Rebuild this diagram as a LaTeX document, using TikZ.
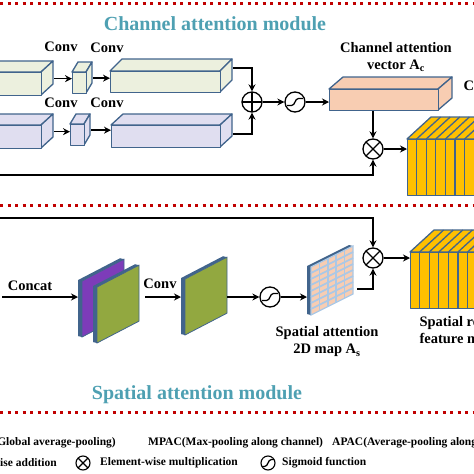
\documentclass[tikz,border=0pt]{standalone}
\usepackage{fontspec}
\setmainfont{Liberation Serif}
\usetikzlibrary{arrows.meta,positioning,calc}

\definecolor{titleteal}{RGB}{78,160,178}
\definecolor{dotred}{RGB}{192,0,0}
\definecolor{edgeblue}{RGB}{65,100,140}
\definecolor{convgreen}{RGB}{236,240,222}
\definecolor{convlilac}{RGB}{224,222,240}
\definecolor{vecpeach}{RGB}{248,205,178}
\definecolor{featyellow}{RGB}{255,192,0}
\definecolor{slabgreen}{RGB}{146,168,64}
\definecolor{slabpurple}{RGB}{125,60,185}
\definecolor{gridblue}{RGB}{170,200,230}

\tikzset{
  boxline/.style={draw=edgeblue, line width=1.3pt, line join=round},
  flow/.style={line width=1.5pt, -{Stealth[length=7pt,width=7pt]}},
  wire/.style={line width=1.5pt},
  dotsep/.style={dotred, line width=3pt, dash pattern=on 3pt off 4.5pt},
  lbl/.style={font=\fontsize{14.5}{17}\selectfont\bfseries, align=center},
  modtitle/.style={font=\fontsize{20}{24}\selectfont\bfseries, text=titleteal},
  legendtxt/.style={font=\fontsize{11.5}{13}\selectfont\bfseries, inner sep=0pt},
  opcircle/.style={circle, draw, line width=1.3pt, minimum size=20pt, inner sep=0pt},
  oplus/.style={opcircle, path picture={\draw[line width=1.3pt]
      (path picture bounding box.north) -- (path picture bounding box.south)
      (path picture bounding box.west) -- (path picture bounding box.east);}},
  otimes/.style={opcircle, path picture={\draw[line width=1.3pt]
      (path picture bounding box.north west) -- (path picture bounding box.south east)
      (path picture bounding box.north east) -- (path picture bounding box.south west);}},
  sigm/.style={opcircle, path picture={\draw[line width=1.3pt]
      ($(path picture bounding box.center)+(-8pt,-3.5pt)$) -- ++(4.5pt,0pt)
      to[out=0,in=180] ++(7pt,7pt) -- ++(4.5pt,0pt);}},
}

% name, fill, x, y, w, h, dx, dy
\newcommand{\cuboid}[8]{%
  \draw[boxline, fill=#2] (#3,#4) -- ++(#7,-#8) -- ++(#5,0) -- ++(-#7,#8) -- cycle;
  \draw[boxline, fill=#2] (#3,#4) ++(#5,0) -- ++(#7,-#8) -- ++(0,#6) -- ++(-#7,#8) -- cycle;
  \node[boxline, fill=#2, anchor=north west, minimum width=#5pt, minimum height=#6pt, inner sep=0pt] (#1) at (#3,#4) {};
  \path (#1.east) ++(#7,-#8/2) coordinate (#1-side);
}

% name, fill, x, y (lower left corner)
\newcommand{\slab}[4]{%
  \begin{scope}[shift={(#3,#4)}, yslant=0.52]
    \fill[edgeblue] (0,0) -- (0,-56) -- (42,-56) -- (38,-59) -- (-4,-59) -- (-4,-3) -- cycle;
    \draw[edgeblue, line width=0.8pt, fill=#2] (0,0) rectangle (42,-56);
    \coordinate (#1-w) at (-4,-30);
    \coordinate (#1-e) at (42,-28);
  \end{scope}
}

% name, x, y
\newcommand{\attmap}[3]{%
  \begin{scope}[shift={(#2,#3)}, yslant=0.5]
    \fill[edgeblue] (0,0) -- (0,-48) -- (42,-48) -- (38,-51) -- (-4,-51) -- (-4,-3) -- cycle;
    \fill[vecpeach] (0,0) rectangle (42,-48);
    \foreach \k in {1,...,4} \draw[gridblue, line width=1.6pt] (\k*8.4,0) -- (\k*8.4,-48);
    \foreach \k in {1,...,7} \draw[gridblue, line width=1.6pt] (0,-\k*6) -- (42,-\k*6);
    \draw[gridblue, line width=1.2pt] (0,0) rectangle (42,-48);
    \coordinate (#1-w) at (-4,-26);
    \coordinate (#1-se) at (42,0);
  \end{scope}
}

% name, x, y
\newcommand{\featcube}[3]{%
  \draw[boxline, fill=featyellow] (#2,#3) -- ++(24,-22) -- ++(80,0) -- ++(-24,22) -- cycle;
  \foreach \k in {1,...,8} \draw[edgeblue, line width=1.3pt] ({#2+\k*9.6},#3) -- ++(24,-22);
  \node[boxline, fill=featyellow, anchor=north west, minimum width=80pt, minimum height=56pt, inner sep=0pt] (#1) at (#2,#3) {};
  \foreach \k in {1,...,8} \draw[edgeblue, line width=1.3pt] ({#2+\k*9.6},#3) -- ++(0,56);
}

\begin{document}
\begin{tikzpicture}[x=1pt, y=-1pt]
  \useasboundingbox (0,0) rectangle (474,474);
  \clip (0,0) rectangle (474,474);

  % channel attention module
  \draw[dotsep] (0,3) -- (474,3);
  \node[modtitle] (chtitle) at (215,24) {Channel attention module};

  \cuboid{gA}{convgreen}{-40}{72}{81}{23}{12}{11}
  \cuboid{gB}{convgreen}{72}{72}{14}{21}{6}{10}
  \cuboid{gC}{convgreen}{110}{71}{110}{21}{12}{12}
  \cuboid{lA}{convlilac}{-40}{125}{81}{23}{12}{11}
  \cuboid{lB}{convlilac}{70}{124}{14}{21}{6}{10}
  \cuboid{lC}{convlilac}{111}{125}{109}{22}{12}{11}
  \node[lbl] (convgB) at (61,47) {Conv};
  \node[lbl] (convgC) at (107,48) {Conv};
  \node[lbl] (convlB) at (61,103) {Conv};
  \node[lbl] (convlC) at (107,103) {Conv};

  \node[oplus] (add) at (252,102) {};
  \node[sigm] (sigA) at (295,102) {};
  \cuboid{vecA}{vecpeach}{329}{89}{109}{21}{14}{12}
  \node[lbl] (veclbl) at (396,57) {Channel attention\\vector A\textsubscript{c}};
  \node[otimes] (mulA) at (373,149) {};
  \featcube{outA}{407}{139}
  \node[lbl, anchor=west] (outAlbl) at (460,85) {Channel refined};
  \coordinate (inA) at (0,175);

  \draw[flow] (gA-side) -- (gA-side -| gB.west);
  \draw[flow] (gB-side) -- (gB-side -| gC.west);
  \draw[flow] (lA-side) -- (lA-side -| lB.west);
  \draw[flow] (lB-side) -- (lB-side -| lC.west);
  \draw[flow] ([yshift=8pt]gC-side) -| (add.north);
  \draw[flow] ([yshift=-3pt]lC-side) -| (add.south);
  \draw[flow] (add) -- (sigA);
  \draw[flow] (sigA) -- (sigA -| vecA.west);
  \draw[flow] (mulA |- vecA.south) -- (mulA);
  \draw[flow] (inA) -| (mulA.south);
  \draw[flow] (mulA) -- (mulA -| outA.west);

  % spatial attention module
  \draw[dotsep] (0,205) -- (474,205);
  \coordinate (inB) at (0,218);
  \node[otimes] (mulB) at (373,258) {};
  \draw[flow] (inB) -| (mulB.north);

  \coordinate (inC) at (2,297);
  \slab{pur}{slabpurple}{82}{337}
  \slab{grA}{slabgreen}{97}{343}
  \slab{grB}{slabgreen}{185}{335}
  \node[lbl] (concatlbl) at (30,286) {Concat};
  \node[lbl] (convlbl) at (160,284) {Conv};
  \node[sigm] (sigB) at (270,297) {};
  \attmap{mapA}{311}{315}
  \node[lbl] (maplbl) at (327,342) {Spatial attention\\2D map A\textsubscript{s}};
  \featcube{outB}{410}{252}
  \node[lbl, align=left, anchor=north west] (outBlbl) at (416,313) {Spatial refined\\feature map};

  \draw[flow] (inC) -- (inC -| pur-w);
  \draw[flow] ([xshift=6pt]grA-e |- inC) -- (inC -| grB-w);
  \draw[flow] (grB-e |- sigB) -- (sigB);
  \draw[flow] (sigB) -- (sigB -| mapA-w);
  \draw[flow] ([xshift=4pt,yshift=5pt]mapA-se) -| (mulB.south);
  \draw[flow] (mulB) -- (mulB -| outB.west);

  \node[modtitle] (sptitle) at (197,395) {Spatial attention module};
  \draw[dotsep] (0,412) -- (474,412);

  % legend
  \node[legendtxt, anchor=east] (gap) at (116,443) {GAP(Global average-pooling)};
  \node[legendtxt, anchor=west] (mpac) at (148,443) {MPAC(Max-pooling along channel)};
  \node[legendtxt, anchor=west] (apac) at (332,443) {APAC(Average-pooling along channel)};
  \node[legendtxt, anchor=east] (addtxt) at (57,463) {Element-wise addition};
  \node[otimes, minimum size=14pt, line width=1.1pt] (lgmul) at (83,463) {};
  \node[legendtxt, anchor=west] (multxt) at (100,463) {Element-wise multiplication};
  \node[sigm, minimum size=14pt, line width=1.1pt] (lgsig) at (268,463) {};
  \node[legendtxt, anchor=west] (sigtxt) at (282,463) {Sigmoid function};
\end{tikzpicture}
\end{document}
